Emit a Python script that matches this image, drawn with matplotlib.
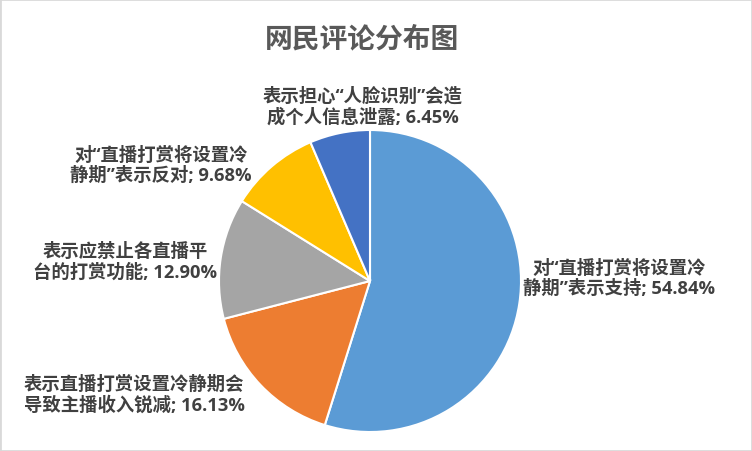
import matplotlib
matplotlib.use("Agg")
import matplotlib.pyplot as plt
from matplotlib.patches import Rectangle

# Latin font first so quotes / digits are narrow Latin glyphs, CJK falls back
plt.rcParams['font.family'] = ['Open Sans', 'Noto Sans CJK SC', 'DejaVu Sans']

# data
categories = [
    "对“直播打赏将设置冷\n静期”表示支持",
    "表示直播打赏设置冷静期会\n导致主播收入锐减",
    "表示应禁止各直播平\n台的打赏功能",
    "对“直播打赏将设置冷\n静期”表示反对",
    "表示担心“人脸识别”会造\n成个人信息泄露",
]
shares = [54.84, 16.13, 12.90, 9.68, 6.45]
colors = ["#5B9BD5", "#ED7D31", "#A5A5A5", "#FFC000", "#4472C4"]
title = "网民评论分布图"

# label centres in pixel coords (x, y from top)
label_pos = [(619, 279), (134, 395), (125, 262), (161, 166), (363, 107)]

W, H = 752, 452
fig = plt.figure(figsize=(W / 100, H / 100), dpi=100)
ax = fig.add_axes([0, 0, 1, 1])

ax.pie(shares, colors=colors, startangle=90, counterclock=False,
       center=(370, H - 282), radius=151, frame=True,
       wedgeprops=dict(edgecolor="white", linewidth=1.5))
ax.set_xlim(0, W)
ax.set_ylim(0, H)
ax.set_aspect("equal")
ax.axis("off")

for cat, val, (x, y) in zip(categories, shares, label_pos):
    ax.text(x, H - y, f"{cat}; {val:.2f}%", ha="center", va="center",
            fontsize=13.2, color="#404040", linespacing=1.15,
            fontweight="bold")

ax.text(362, H - 40, title, ha="center", va="center", fontsize=20,
        color="#595959", fontweight="bold")

fig.patches.append(Rectangle((0, 0), 1, 1, transform=fig.transFigure,
                             fill=False, edgecolor="#D9D9D9", linewidth=2))

fig.savefig("out.png", dpi=100)
